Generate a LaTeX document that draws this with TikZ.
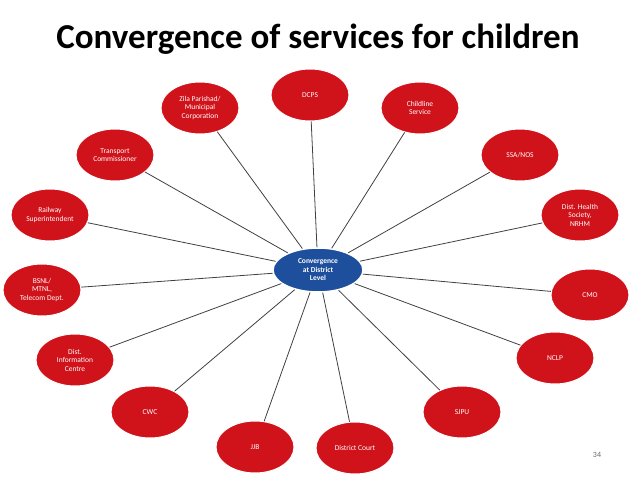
\documentclass[tikz,border=0pt]{standalone}
\usepackage{fontspec}
\setmainfont{Carlito}
\usetikzlibrary{shapes.geometric}
\definecolor{ered}{HTML}{D0121B}
\definecolor{eblue}{HTML}{1D4F9C}
\begin{document}
\begin{tikzpicture}[x=1pt,y=-1pt,
 outer/.style={ellipse,fill=ered,draw=white,line width=1pt,minimum width=78pt,minimum height=52pt,inner sep=0pt,text=white,font=\fontsize{7.5}{8.5}\selectfont,align=center},
 hub/.style={ellipse,fill=eblue,draw=white,line width=1.5pt,minimum width=90pt,minimum height=44pt,inner sep=0pt,text=white,font=\fontsize{7.5}{8.5}\selectfont\bfseries,align=center},
 link/.style={draw=black!75,line width=0.8pt}]
\useasboundingbox (0,0) rectangle (638,478);
\node[font=\fontsize{35}{38}\selectfont\bfseries] (title) at (318,39) {Convergence of services for children};
\node[font=\fontsize{8}{9}\selectfont,text=black!60] (pg) at (597,455) {34};
\node[hub] (c) at (318,270) {Convergence\\at District\\Level};
\foreach \n/\x/\y/\t in {
 dcps/310/95/{DCPS},
 zila/200/108/{Zila Parishad/\\Municipal\\Corporation},
 child/420/108/{Childline\\Service},
 trans/115/155/{Transport\\Commissioner},
 ssa/520/155/{SSA/NOS},
 rail/50/215/{Railway\\Superintendent},
 dhs/580/215/{Dist. Health\\Society,\\NRHM},
 bsnl/42/290/{BSNL/\\MTNL,\\Telecom Dept.},
 cmo/590/295/{CMO},
 dic/75/360/{Dist.\\Information\\Centre},
 nclp/555/358/{NCLP},
 cwc/150/412/{CWC},
 sjpu/462/412/{SJPU},
 jjb/255/447/{JJB},
 court/355/448/{District Court}}
{
 \node[outer] (\n) at (\x,\y) {\t};
}
\foreach \n in {dcps,zila,child,trans,ssa,rail,dhs,bsnl,cmo,dic,nclp,cwc,sjpu,jjb,court}
 \draw[link] (c) -- (\n);
\end{tikzpicture}
\end{document}
